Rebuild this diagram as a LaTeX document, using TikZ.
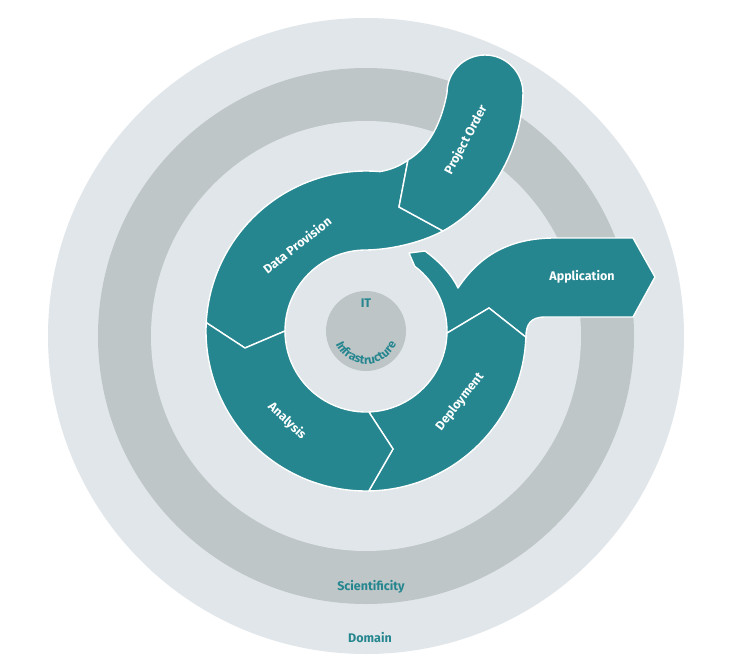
\documentclass[tikz,border=0pt]{standalone}
\usepackage{fontspec}
\setmainfont{Fira Sans}
\usetikzlibrary{decorations.text}
\definecolor{teal1}{HTML}{25868F}
\definecolor{lightbg}{HTML}{E0E6E9}
\definecolor{ringgray}{HTML}{BFC6C8}
\definecolor{itgray}{HTML}{BEC5C7}
\tikzset{
 seg/.style={fill=teal1,draw=white,line width=1.4pt,line join=round},
 wlabel/.style={text=white,font=\bfseries\fontsize{12.5}{14}\selectfont},
 tlabel/.style={text=teal1,font=\bfseries\fontsize{12.5}{14}\selectfont}
}
\begin{document}
\begin{tikzpicture}[x=1pt,y=-1pt]
\useasboundingbox (0,0) rectangle (750,661);
\fill[white] (0,0) rectangle (750,661);
\coordinate (o) at (366,336);
\coordinate (c) at (366,331);
\fill[lightbg] (o) circle[radius=318];
\fill[ringgray] (o) circle[radius=268];
\fill[lightbg] (o) circle[radius=215];
% segments
\path[seg] ([shift={(c)}]183:160) arc[start angle=183,end angle=275,radius=160]
  .. controls (390,170) and (400,166) .. (408,160) -- (399,207) -- (443,231)
  .. controls (420,243) and (390,250) .. ([shift={(c)}]268:81)
  arc[start angle=268,end angle=180,radius=81] -- (245,348) -- cycle;
\path[seg] (408,160) .. controls (425,150) and (440,130) .. (447,93)
  arc[start angle=180,end angle=360,radius=38]
  .. controls (522,150) and (490,205) .. (443,231) -- (399,207) -- cycle;
\path[seg] ([shift={(c)}]1.5:81) arc[start angle=1.5,end angle=-53,radius=81]
  -- (409,253) -- (425,251) .. controls (440,262) and (452,275) .. (458,288)
  .. controls (480,255) and (510,238) .. (555,238) -- (633,238) -- (655,277)
  -- (633,317) -- (545,317) .. controls (530,317) and (526,325) .. ([shift={(c)}]2.2:160)
  -- (489,308) -- cycle;
\path[seg] ([shift={(c)}]1.5:81) -- (489,308) -- ([shift={(c)}]2.2:160)
  arc[start angle=2.2,end angle=89,radius=160] -- (393,449) -- ([shift={(c)}]88:81)
  arc[start angle=88,end angle=1.5,radius=81] -- cycle;
\path[seg] ([shift={(c)}]183:160) -- (245,348) -- ([shift={(c)}]180:81)
  arc[start angle=180,end angle=88,radius=81] -- (393,449) -- ([shift={(c)}]89:160)
  arc[start angle=89,end angle=183,radius=160] -- cycle;
\fill[itgray] (c) circle[radius=40];
% labels
\node[wlabel,rotate=38] (dp) at (297,245) {Data Provision};
\node[wlabel,rotate=62] (po) at (466,140) {Project Order};
\node[wlabel] (app) at (582,277) {Application};
\node[wlabel,rotate=-43] (an) at (287,421) {Analysis};
\node[wlabel,rotate=52] (de) at (460,402) {Deployment};
\node[tlabel] (it) at (366,303) {IT};
\path[decorate,decoration={text along path,text align=center,
  text={|\bfseries\fontsize{12}{13}\selectfont\color{teal1}|Infrastructure}}]
  ([shift={(c)}]170:33) arc[start angle=170,end angle=10,radius=33];
\node[tlabel] (sci) at (371,587) {Scientificity};
\node[tlabel] (dom) at (370,638) {Domain};
\end{tikzpicture}
\end{document}
